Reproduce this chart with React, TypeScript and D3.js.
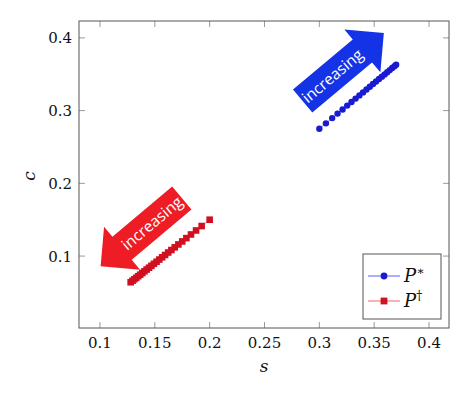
import React from "react";
import * as d3 from "d3";

const W = 474;
const H = 399;

const xTicks = [0.1, 0.15, 0.2, 0.25, 0.3, 0.35, 0.4];
const yTicks = [0.1, 0.2, 0.3, 0.4];

// P* series (blue circles)
const pStarS = [0.300, 0.306, 0.3117, 0.3166, 0.3212, 0.3254, 0.3293, 0.3330, 0.3365, 0.3398, 0.3430, 0.3460, 0.3489, 0.3517, 0.3544, 0.3570, 0.3595, 0.3619, 0.3642, 0.3664, 0.3685, 0.3700];
const pStarC = [0.275, 0.2825, 0.2897, 0.2959, 0.3016, 0.3069, 0.3118, 0.3165, 0.3209, 0.3250, 0.3291, 0.3328, 0.3365, 0.3400, 0.3434, 0.3467, 0.3498, 0.3528, 0.3557, 0.3585, 0.3611, 0.3630];

// P† series (red squares)
const pDagS = [0.200, 0.1927, 0.1876, 0.1830, 0.1788, 0.1750, 0.1715, 0.1682, 0.1651, 0.1622, 0.1594, 0.1567, 0.1541, 0.1516, 0.1492, 0.1469, 0.1447, 0.1426, 0.1406, 0.1386, 0.1367, 0.1349, 0.1331, 0.1314, 0.1297, 0.1280];
const pDagC = [0.150, 0.1413, 0.1352, 0.1297, 0.1247, 0.1201, 0.1160, 0.1120, 0.1083, 0.1049, 0.1015, 0.0983, 0.0952, 0.0922, 0.0894, 0.0866, 0.0840, 0.0815, 0.0791, 0.0767, 0.0744, 0.0723, 0.0701, 0.0681, 0.0661, 0.0640];

// annotation arrows: body centre in data units, direction (deg, screen)
const arrows = [
  { s: 0.312, c: 0.3476, rot: -40, color: "#1533e6" },
  { s: 0.1474, c: 0.1453, rot: 140, color: "#ee1c25" },
];

const serif = "'DejaVu Serif', 'Liberation Serif', 'Times New Roman', serif";

export default function App() {
  const left = 79, right = 449, top = 21, bottom = 328;
  const x = d3.scaleLinear().domain([0.0809, 0.4182]).range([left, right]);
  const y = d3.scaleLinear().domain([0.0011, 0.4232]).range([bottom, top]);

  const blue = pStarS.map((s, i) => [s, pStarC[i]] as [number, number]);
  const red = pDagS.map((s, i) => [s, pDagC[i]] as [number, number]);
  const line = d3.line<[number, number]>().x(d => x(d[0])).y(d => y(d[1]));

  const L = 78, w = 15, Hh = 28, hl = 28;
  const arrowPath = `M${-L / 2},${-w} L${L / 2},${-w} L${L / 2},${-Hh} L${L / 2 + hl},0 L${L / 2},${Hh} L${L / 2},${w} L${-L / 2},${w} Z`;

  const tickLen = 6;
  const tickColor = "#9a9a9a";

  return (
    <svg width={W} height={H} style={{ position: "absolute", left: 0, top: 0 }}>
      <rect width={W} height={H} fill="white" />
      {/* ticks */}
      {xTicks.map(t => (
        <g key={"xt" + t}>
          <line x1={x(t)} x2={x(t)} y1={bottom} y2={bottom - tickLen} stroke={tickColor} />
          <line x1={x(t)} x2={x(t)} y1={top} y2={top + tickLen} stroke={tickColor} />
          <text x={x(t)} y={348} textAnchor="middle" fontFamily={serif} fontSize={15} fill="#111">{String(t)}</text>
        </g>
      ))}
      {yTicks.map(t => (
        <g key={"yt" + t}>
          <line x1={left} x2={left + tickLen} y1={y(t)} y2={y(t)} stroke={tickColor} />
          <line x1={right} x2={right - tickLen} y1={y(t)} y2={y(t)} stroke={tickColor} />
          <text x={72} y={y(t) + 5.5} textAnchor="end" fontFamily={serif} fontSize={15} fill="#111">{String(t)}</text>
        </g>
      ))}
      {/* arrows */}
      {arrows.map((a, i) => (
        <g key={"ar" + i} transform={`translate(${x(a.s)},${y(a.c)})`}>
          <path d={arrowPath} transform={`rotate(${a.rot})`} fill={a.color} />
          <text transform="rotate(-40)" x={0} y={0} dy="0.35em" textAnchor="middle" fontFamily="'Open Sans', sans-serif" fontSize={15.5} fill="white">increasing</text>
        </g>
      ))}
      {/* series */}
      <path d={line(blue) || ""} fill="none" stroke="#7a7aff" strokeWidth={1} />
      {blue.map((d, i) => (
        <circle key={"b" + i} cx={x(d[0])} cy={y(d[1])} r={3.2} fill="#1a1ad2" />
      ))}
      <path d={line(red) || ""} fill="none" stroke="#f08080" strokeWidth={1} />
      {red.map((d, i) => (
        <rect key={"r" + i} x={x(d[0]) - 3.3} y={y(d[1]) - 3.3} width={6.6} height={6.6} fill="#d01020" />
      ))}
      {/* frame */}
      <rect x={left} y={top} width={right - left} height={bottom - top} fill="none" stroke="#555" strokeWidth={1} />
      {/* axis labels */}
      <text x={264} y={372} textAnchor="middle" fontFamily={serif} fontStyle="italic" fontSize={17} fill="#111">s</text>
      <text transform={`translate(35,176) rotate(-90)`} textAnchor="middle" fontFamily={serif} fontStyle="italic" fontSize={17} fill="#111">c</text>
      {/* legend */}
      <rect x={363} y={254} width={78} height={65} fill="white" stroke="#555" strokeWidth={1} />
      <line x1={368} x2={400} y1={276} y2={276} stroke="#7a7aff" strokeWidth={1.2} />
      <circle cx={384} cy={276} r={3.4} fill="#1a1ad2" />
      <text x={404} y={282} fontFamily={serif} fontStyle="italic" fontSize={18} fill="#111">P<tspan dy={-7} fontSize={12} fontStyle="normal">∗</tspan></text>
      <line x1={368} x2={400} y1={301} y2={301} stroke="#f08080" strokeWidth={1.2} />
      <rect x={380.6} y={297.6} width={6.8} height={6.8} fill="#d01020" />
      <text x={404} y={307} fontFamily={serif} fontStyle="italic" fontSize={18} fill="#111">P<tspan dy={-7} fontSize={12} fontStyle="normal">†</tspan></text>
    </svg>
  );
}
